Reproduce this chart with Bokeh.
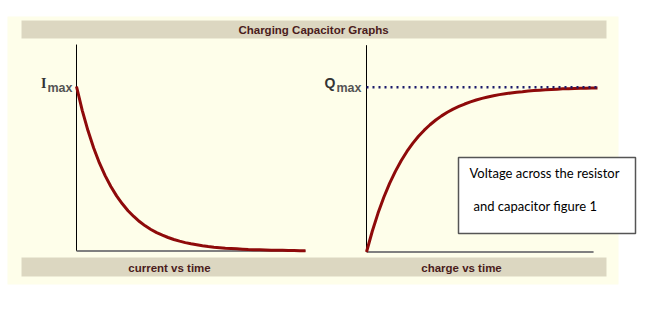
from bokeh.plotting import figure
from bokeh.models import Range1d
from bokeh.embed import file_html
from bokeh.resources import INLINE
from bokeh.core.properties import value

# ---------------- data ----------------
title_text = "Charging Capacitor Graphs"
left_label = "current vs time"
right_label = "charge vs time"
box_lines = ["Voltage across the resistor", "and capacitor figure 1"]
i_label = ["I", "max"]
q_label = ["Q", "max"]

time = [i * 0.25 for i in range(41)]
current = [1.000, 0.855, 0.732, 0.626, 0.535, 0.458, 0.392, 0.335, 0.287, 0.245,
           0.210, 0.179, 0.153, 0.131, 0.112, 0.096, 0.082, 0.070, 0.060, 0.051,
           0.044, 0.038, 0.032, 0.027, 0.023, 0.020, 0.017, 0.015, 0.013, 0.011,
           0.009, 0.008, 0.007, 0.006, 0.005, 0.004, 0.004, 0.003, 0.003, 0.002,
           0.002]
charge = [0.000, 0.126, 0.236, 0.332, 0.416, 0.489, 0.554, 0.610, 0.659, 0.702,
          0.739, 0.772, 0.801, 0.826, 0.848, 0.867, 0.883, 0.898, 0.911, 0.922,
          0.932, 0.941, 0.948, 0.955, 0.960, 0.965, 0.970, 0.973, 0.977, 0.980,
          0.982, 0.984, 0.986, 0.988, 0.990, 0.991, 0.992, 0.993, 0.994, 0.995,
          0.995]
t_max = 10.0
axis_top = 1.255

# ---------------- styles ----------------
W, H = 657, 320
CREAM = "#FEFEEA"
BAR = "#DCD7C1"
TXT = "#4A1C1C"
RED = "#8E0A0A"
NAVY = "#1B1B6B"

p = figure(width=W, height=H, x_range=Range1d(0, W), y_range=Range1d(H, 0),
           output_backend="svg", toolbar_location=None,
           x_axis_location=None, y_axis_location=None, min_border=0,
           background_fill_color="white", border_fill_color="white",
           outline_line_color=None)
p.grid.visible = False

# panel scales (screen pixel positions of origin / unit)
def panel_ranges(x0, x1, y0, y1):
    sx = (x1 - x0) / t_max
    sy = (y0 - y1)
    xr = Range1d(-x0 / sx, (W - x0) / sx)
    yr = Range1d(-(H - y0) / sy, y0 / sy)
    return xr, yr

lxr, lyr = panel_ranges(76, 305, 250.5, 86)
rxr, ryr = panel_ranges(366, 597, 251.5, 86.7)
p.extra_x_ranges = {"lx": lxr, "rx": rxr}
p.extra_y_ranges = {"ly": lyr, "ry": ryr}

# background and bars
p.quad(left=7, right=618, top=16, bottom=284, fill_color=CREAM, line_color=None)
p.quad(left=[21, 21], right=[606, 606], top=[20, 257], bottom=[38, 276],
       fill_color=BAR, line_color=None)
p.text(x=[313], y=[29], text=[title_text], text_font=value("Liberation Sans"),
       text_font_style="bold", text_font_size="11.5px", text_color=TXT,
       text_align="center", text_baseline="middle")
p.text(x=[169, 461], y=[267, 267], text=[left_label, right_label],
       text_font=value("Liberation Sans"), text_font_style="bold",
       text_font_size="11.5px", text_color=TXT, text_align="center",
       text_baseline="middle")

# left panel
p.segment(x0=[0], y0=[0], x1=[0], y1=[axis_top], line_color="black", line_width=1,
          x_range_name="lx", y_range_name="ly")
p.segment(x0=[0], y0=[0], x1=[t_max], y1=[0], line_color="#808080", line_width=2,
          x_range_name="lx", y_range_name="ly")
p.line(time, current, line_color=RED, line_width=3, x_range_name="lx", y_range_name="ly")
p.text(x=[0], y=[1], text=[i_label[1]], text_font=value("Liberation Sans"),
       text_font_style="bold", text_font_size="12.5px", text_color="#555555",
       text_align="right", text_baseline="middle", x_offset=-4, y_offset=1,
       x_range_name="lx", y_range_name="ly")
p.text(x=[0], y=[1], text=[i_label[0]], text_font=value("Liberation Serif"),
       text_font_style="bold", text_font_size="14px", text_color="#333333",
       text_align="right", text_baseline="middle", x_offset=-30, y_offset=-3,
       x_range_name="lx", y_range_name="ly")

# right panel
p.segment(x0=[0], y0=[0], x1=[0], y1=[axis_top], line_color="black", line_width=1,
          x_range_name="rx", y_range_name="ry")
p.segment(x0=[0], y0=[0], x1=[9.83], y1=[0], line_color="#808080", line_width=2,
          x_range_name="rx", y_range_name="ry")
p.line(time, charge, line_color=RED, line_width=3, x_range_name="rx", y_range_name="ry")
p.segment(x0=[0], y0=[1], x1=[t_max], y1=[1], line_color=NAVY, line_width=2.5,
          line_dash="2 4", x_range_name="rx", y_range_name="ry")
p.text(x=[0], y=[1], text=[q_label[1]], text_font=value("Liberation Sans"),
       text_font_style="bold", text_font_size="12.5px", text_color="#555555",
       text_align="right", text_baseline="middle", x_offset=-5, y_offset=1,
       x_range_name="rx", y_range_name="ry")
p.text(x=[0], y=[1], text=[q_label[0]], text_font=value("Liberation Sans"),
       text_font_style="bold", text_font_size="14px", text_color="#333333",
       text_align="right", text_baseline="middle", x_offset=-31, y_offset=-4,
       x_range_name="rx", y_range_name="ry")

# annotation box
p.quad(left=458, right=635, top=157, bottom=233, fill_color="white",
       line_color="#555555", line_width=1.5)
p.text(x=[469, 473], y=[172, 205], text=box_lines, text_font=value("Lato"),
       text_font_size="13px", text_color="black", text_align="left",
       text_baseline="middle")

open("out.html", "w").write(file_html(p, INLINE))
